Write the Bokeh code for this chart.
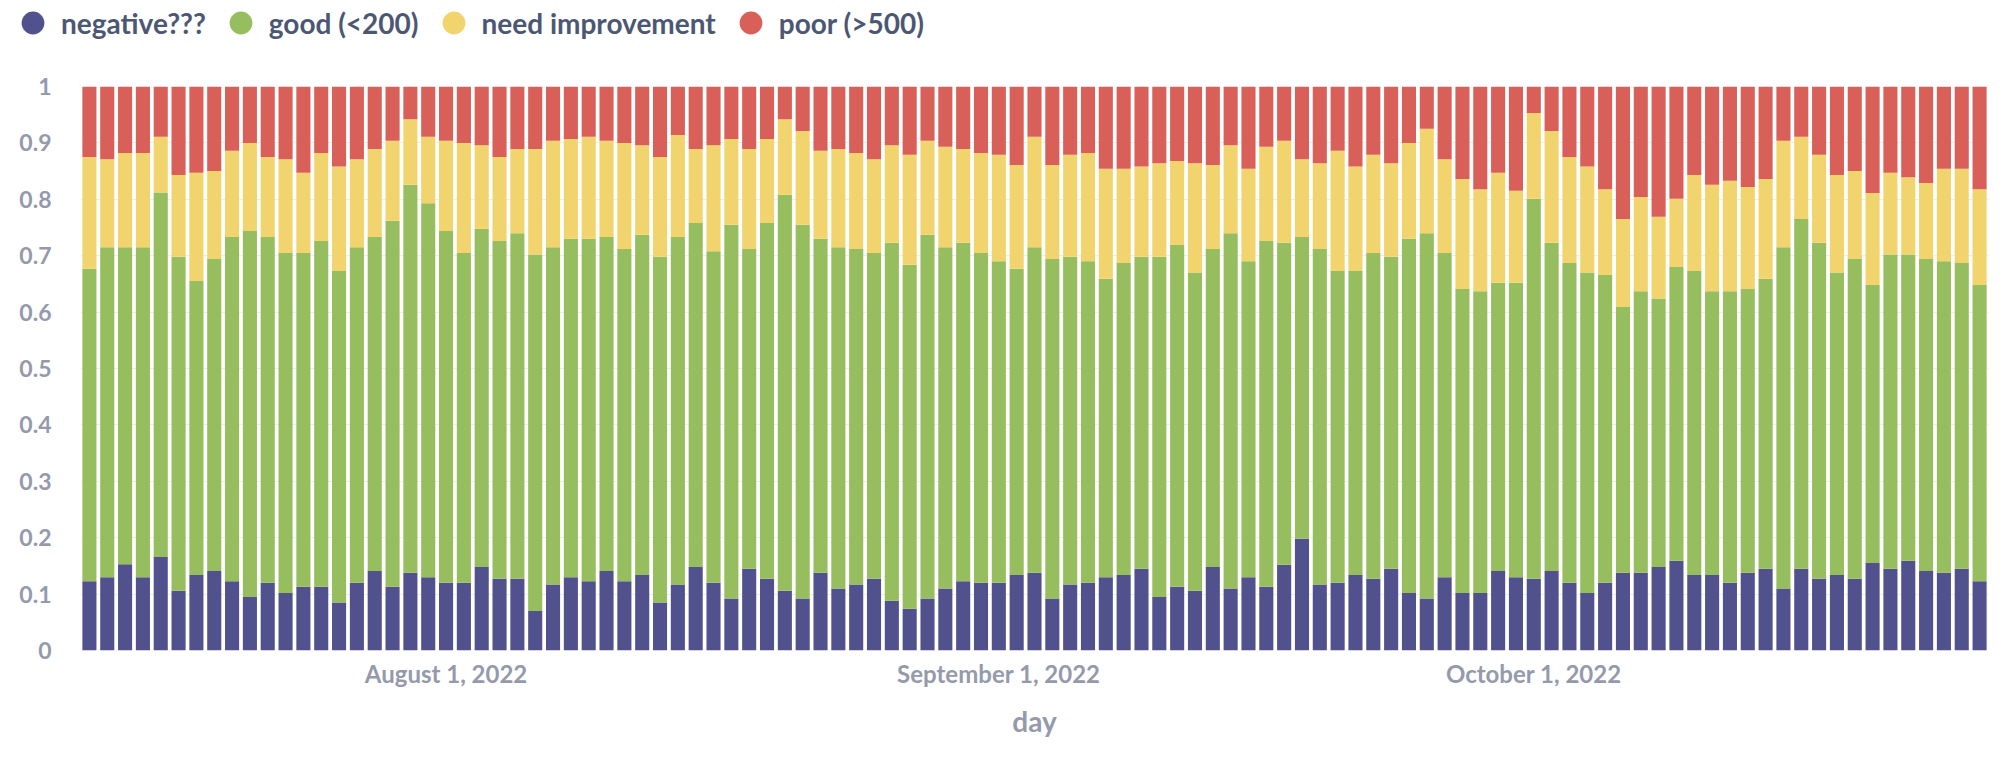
import pandas as pd
from bokeh.plotting import figure
from bokeh.layouts import column
from bokeh.models import (ColumnDataSource, FixedTicker, CustomJSTickFormatter,
                          Legend, LegendItem, Range1d)
from bokeh.embed import file_html
from bokeh.resources import INLINE

# ---------------- data (shares per day) ----------------
start_day = "2022-07-12"

negative = [
    .123, .130, .153, .130, .166, .106, .134, .141, .123, .095,
    .120, .102, .113, .113, .085, .120, .141, .113, .138, .130,
    .120, .120, .148, .127, .127, .070, .117, .130, .123, .141,
    .123, .134, .085, .117, .148, .120, .092, .145, .127, .106,
    .092, .138, .110, .117, .127, .088, .074, .092, .110, .123,
    .120, .120, .134, .138, .092, .117, .120, .130, .134, .145,
    .095, .113, .106, .148, .110, .130, .113, .152, .198, .117,
    .120, .134, .127, .145, .102, .092, .130, .102, .102, .141,
    .130, .127, .141, .120, .102, .120, .138, .138, .148, .159,
    .134, .134, .120, .138, .145, .110, .145, .127, .134, .127,
    .155, .145, .159, .141, .138, .145, .123,
]
good = [
    .554, .585, .562, .585, .646, .592, .521, .553, .610, .649,
    .613, .603, .592, .613, .588, .595, .592, .649, .688, .663,
    .624, .585, .600, .599, .613, .632, .598, .600, .607, .592,
    .589, .603, .613, .616, .610, .588, .663, .567, .631, .702,
    .663, .592, .605, .595, .578, .635, .610, .645, .605, .600,
    .585, .570, .543, .577, .602, .581, .570, .529, .553, .553,
    .603, .606, .564, .564, .630, .560, .613, .571, .535, .595,
    .553, .539, .578, .553, .628, .648, .575, .539, .535, .511,
    .522, .674, .582, .567, .568, .546, .471, .499, .476, .521,
    .539, .503, .517, .503, .514, .605, .620, .596, .536, .567,
    .493, .557, .543, .553, .552, .542, .525,
]
need_improvement = [
    .198, .156, .167, .167, .099, .145, .192, .156, .153, .156,
    .142, .166, .142, .156, .185, .156, .156, .142, .116, .118,
    .160, .195, .148, .149, .149, .187, .189, .177, .181, .171,
    .188, .159, .177, .181, .131, .188, .152, .177, .149, .134,
    .166, .156, .174, .170, .166, .173, .195, .167, .178, .166,
    .177, .189, .184, .196, .167, .181, .192, .195, .167, .160,
    .166, .149, .194, .149, .156, .164, .167, .181, .138, .152,
    .213, .185, .174, .166, .170, .185, .166, .195, .181, .195,
    .163, .152, .198, .188, .188, .152, .156, .167, .145, .121,
    .170, .189, .196, .181, .177, .189, .146, .156, .173, .156,
    .163, .145, .137, .135, .164, .167, .170,
]
poor = [
    .125, .129, .118, .118, .089, .157, .153, .150, .114, .100,
    .125, .129, .153, .118, .142, .129, .111, .096, .058, .089,
    .096, .100, .104, .125, .111, .111, .096, .093, .089, .096,
    .100, .104, .125, .086, .111, .104, .093, .111, .093, .058,
    .079, .114, .111, .118, .129, .104, .121, .096, .107, .111,
    .118, .121, .139, .089, .139, .121, .118, .146, .146, .142,
    .136, .132, .136, .139, .104, .146, .107, .096, .129, .136,
    .114, .142, .121, .136, .100, .075, .129, .164, .182, .153,
    .185, .047, .079, .125, .142, .182, .235, .196, .231, .199,
    .157, .174, .167, .178, .164, .096, .089, .121, .157, .150,
    .189, .153, .161, .171, .146, .146, .182,
]

series_names = ["negative???", "good (<200)", "need improvement", "poor (>500)"]
series_colors = ["#51528D", "#96BD5E", "#F2D46E", "#D95F59"]
x_tick_dates = ["2022-08-01", "2022-09-01", "2022-10-01"]
y_ticks = [0, 0.1, 0.2, 0.3, 0.4, 0.5, 0.6, 0.7, 0.8, 0.9, 1]
x_label = "day"

# ---------------- main chart ----------------
days = pd.date_range(start_day, periods=len(negative), freq="D")
src = ColumnDataSource(dict(day=days, neg=negative, good=good,
                            need=need_improvement, poor=poor))

half_day = pd.Timedelta(hours=12)
p = figure(width=2006, height=722, x_axis_type="datetime",
           output_backend="svg", toolbar_location=None,
           x_range=Range1d(days[0] - half_day, days[-1] + half_day),
           y_range=Range1d(0, 1),
           min_border_left=80, min_border_right=18,
           min_border_top=40, min_border_bottom=118)
p.frame_align = False

p.vbar_stack(["neg", "good", "need", "poor"], x="day", width=0.79 * 86400000,
             fill_color=series_colors, line_color=None, source=src)

p.yaxis.ticker = FixedTicker(ticks=y_ticks)
p.yaxis.formatter = CustomJSTickFormatter(code="return String(Number(tick.toFixed(2)));")
p.xaxis.ticker = FixedTicker(ticks=[pd.Timestamp(d).value // 10**6 for d in x_tick_dates])
p.xaxis.formatter = CustomJSTickFormatter(code="""
const m = ['January','February','March','April','May','June','July','August',
           'September','October','November','December'];
const d = new Date(tick);
return m[d.getUTCMonth()] + ' ' + d.getUTCDate() + ', ' + d.getUTCFullYear();
""")
p.xaxis.axis_label = x_label

for ax in (p.xaxis, p.yaxis):
    ax.axis_line_color = None
    ax.major_tick_line_color = None
    ax.minor_tick_line_color = None
    ax.major_label_text_font = "Lato"
    ax.major_label_text_font_style = "bold"
    ax.major_label_text_color = "#949AAB"
p.yaxis.major_label_text_font_size = "23px"
p.xaxis.major_label_text_font_size = "24px"
p.yaxis.major_label_standoff = 23
p.xaxis.major_label_standoff = 2
p.xaxis.axis_label_text_font = "Lato"
p.xaxis.axis_label_text_font_style = "bold"
p.xaxis.axis_label_text_font_size = "28px"
p.xaxis.axis_label_text_color = "#949AAB"
p.xaxis.axis_label_standoff = 13

p.xgrid.visible = False
p.ygrid.grid_line_color = "#EEEEEE"
p.ygrid.grid_line_width = 1
p.outline_line_color = None
p.background_fill_color = "white"
p.border_fill_color = "white"

# ---------------- legend strip (its own figure, frame = whole strip) ----------------
lg = figure(width=2006, height=46, output_backend="svg", toolbar_location=None,
            x_axis_location=None, y_axis_location=None,
            x_range=Range1d(0, 1), y_range=Range1d(0, 1),
            min_border_left=0, min_border_right=0,
            min_border_top=0, min_border_bottom=0)
lg.frame_align = False
lg.grid.visible = False
lg.outline_line_color = None
lg.background_fill_color = "white"
lg.border_fill_color = "white"

items = []
for name, c in zip(series_names, series_colors):
    r = lg.scatter(x=[float("nan")], y=[float("nan")], marker="circle",
                   fill_color=c, line_color=None)
    items.append(LegendItem(label=name, renderers=[r]))

legend = Legend(items=items, orientation="horizontal", location=(4, -5),
                glyph_width=57, glyph_height=57, label_standoff=0, spacing=6,
                padding=0, margin=0, border_line_alpha=0, background_fill_alpha=0,
                label_text_font="Lato", label_text_font_style="bold",
                label_text_font_size="28px", label_text_color="#4C5773")
lg.add_layout(legend, "center")

page = column(lg, p, spacing=0)
open("out.html", "w").write(file_html(page, INLINE))
